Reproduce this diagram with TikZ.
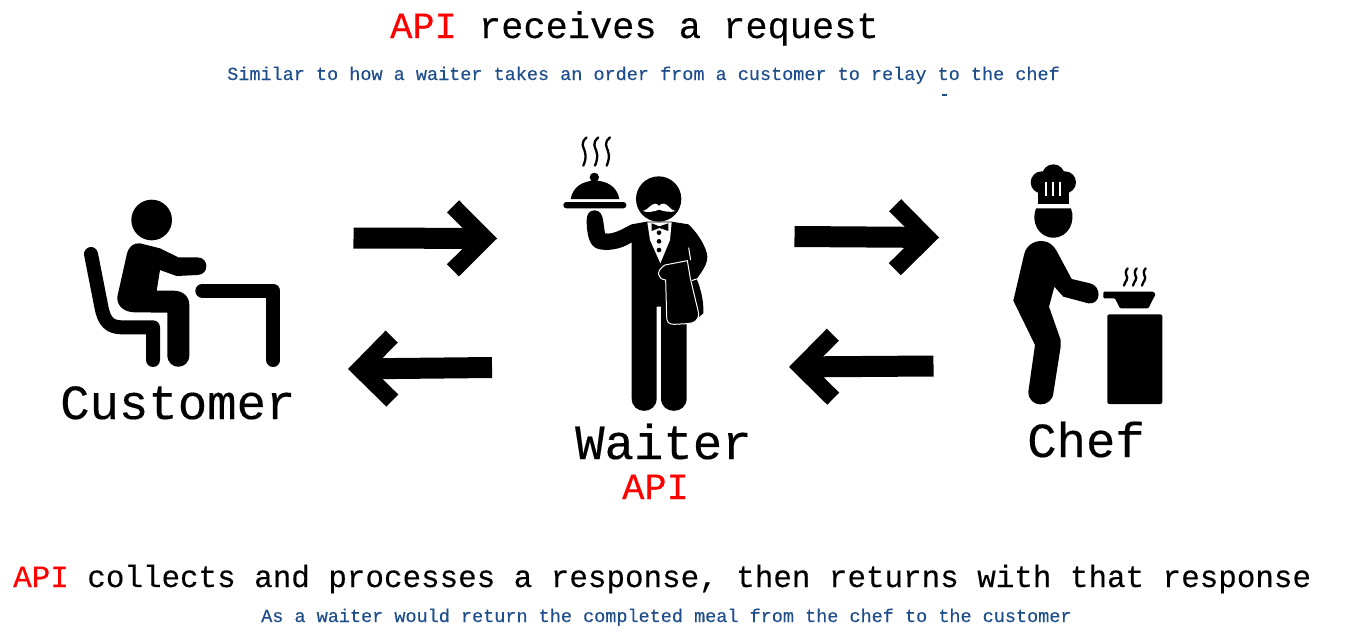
\documentclass[tikz,border=0pt]{standalone}
\usepackage{xcolor}
\usepackage{fontspec}
\setmainfont{Liberation Mono}[FakeBold=0.25]
\usetikzlibrary{arrows.meta}
\definecolor{cBlue}{RGB}{31,78,140}
\definecolor{cRed}{RGB}{255,0,0}
\tikzset{
    zoomed/.style={x=1pt/3,y=-1pt/3},
    bigarrow/.style={line width=21pt,-{Straight Barb[length=32pt,width=64pt,line width=17pt]}},
    steam/.style={line width=2.3pt,line cap=round},
    bar/.style={line width=14pt,line cap=round,line join=round},
    label/.style={anchor=base west,inner sep=0pt},
    bigtext/.style={label,font=\fontsize{49}{49}\selectfont},
    headtext/.style={label,font=\fontsize{37}{37}\selectfont},
    longtext/.style={label,font=\fontsize{30.9}{31}\selectfont},
    subtext/.style={label,text=cBlue,font=\fontsize{18.5}{19}\selectfont},
}

\begin{document}
\begin{tikzpicture}[x=1pt,y=-1pt]
        \useasboundingbox (0,0) rectangle (1358,637);
        \fill[white] (0,0) rectangle (1358,637);

        % texts
        \node[headtext] (topTitle) at (390,38) {\textcolor{cRed}{API} receives a request};
        \node[subtext] (topSub) at (227,80) {Similar to how a waiter takes an order from a customer to relay to the chef};
        \fill[white] (220,84) rectangle (1070,94);
        \fill[cBlue] (942,94.4) rectangle (947,95.6);
        \node[bigtext] (customerText) at (60,419) {Customer};
        \node[bigtext] (waiterText) at (575,459) {Waiter};
        \node[headtext,text=cRed] (apiText) at (622,499) {API};
        \node[bigtext] (chefText) at (1027,457) {Chef};
        \node[longtext] (botTitle) at (13,587) {\textcolor{cRed}{API} collects and processes a response, then returns with that response};
        \node[subtext] (botSub) at (261,622) {As a waiter would return the completed meal from the chef to the customer};

        % arrows
        \coordinate (custOut) at (353.5,238);
        \coordinate (waiterIn) at (497,238.5);
        \coordinate (waiterOut) at (794.5,236.5);
        \coordinate (chefIn) at (939,237.5);
        \coordinate (chefBack) at (933.5,366);
        \coordinate (waiterBack) at (789,367);
        \coordinate (waiterRet) at (492,367.5);
        \coordinate (custIn) at (348,369);
        \draw[bigarrow] (custOut) -- (waiterIn);
        \draw[bigarrow] (waiterOut) -- (chefIn);
        \draw[bigarrow] (chefBack) -- (waiterBack);
        \draw[bigarrow] (waiterRet) -- (custIn);

        % customer
        \begin{scope}[shift={(60,180)},zoomed]
        \fill (275,120) circle (61);
        \fill (172,350) -- (200,225) .. controls (205,200) and (220,188) .. (240,190) -- (300,205) -- (355,232) -- (412,232) .. controls (448,232) and (448,285) .. (412,285) -- (350,288) -- (300,270) -- (290,332) -- (340,332) .. controls (370,332) and (388,350) .. (388,375) -- (388,525) .. controls (388,572) and (322,572) .. (322,525) -- (322,398) -- (225,397) .. controls (195,397) and (170,380) .. (172,350) -- cycle;
        \draw[bar] (93,222) -- (124,380) .. controls (132,425) and (150,442) .. (185,442) -- (279,442) -- (279,540);
        \draw[bar] (427,332) -- (640,332) -- (640,540);
        \end{scope}

        % waiter
        \begin{scope}[shift={(550,125)},zoomed]
        \foreach \sx in {0,35,70} {
            \draw[steam,xshift=\sx/3*1pt] (110,37) .. controls (90,55) and (100,65) .. (104,78) .. controls (110,95) and (105,110) .. (100,122);
        }
        \fill (133,157) circle (14);
        \fill (62,222) .. controls (68,185) and (100,167) .. (135,167) .. controls (170,167) and (202,185) .. (208,222) -- cycle;
        \fill[rounded corners=3pt] (40,231) rectangle (229,250);
        \fill (326,222) circle (68);
        \fill[white] (278,258) .. controls (295,255) and (300,238) .. (315,236) .. controls (322,236) and (325,240) .. (327,243) .. controls (330,238) and (335,235) .. (342,236) .. controls (355,238) and (360,255) .. (376,258) .. controls (360,264) and (340,258) .. (327,254) .. controls (312,260) and (292,264) .. (278,258) -- cycle;
        \fill (110,285) .. controls (110,265) and (120,256) .. (134,256) .. controls (150,256) and (158,270) .. (160,290) -- (165,325) .. controls (190,330) and (220,310) .. (245,298) -- (290,290) -- (365,290) -- (415,298) .. controls (440,320) and (470,365) .. (472,395) .. controls (472,420) and (455,440) .. (440,462) .. controls (452,490) and (462,530) .. (460,565) -- (430,590) -- (410,596) -- (410,820) .. controls (410,870) and (333,870) .. (333,820) -- (333,545) -- (320,545) -- (320,820) .. controls (320,870) and (245,870) .. (245,820) -- (245,352) .. controls (210,375) and (170,378) .. (145,372) .. controls (120,365) and (110,335) .. (110,285) -- cycle;
        \fill[white] (292,292) -- (300,345) -- (331,415) -- (360,345) -- (365,292) -- cycle;
        \fill (305,295) -- (328,304) -- (355,295) -- (355,318) -- (328,309) -- (305,318) -- cycle;
        \foreach \by in {323,349,375} {
            \fill (327,\by) circle (7);
        }
        \filldraw[draw=white,line width=1pt] (345,420) -- (412,407) -- (421,460) -- (446,565) .. controls (446,590) and (430,595) .. (410,596) -- (372,598) .. controls (355,598) and (350,590) .. (350,575) -- (347,465) .. controls (322,462) and (316,438) .. (345,420) -- cycle;
        \draw[white,line width=1pt] (416,368) -- (422,405);
        \draw[white,line width=1pt] (425,467) -- (442,461);
        \end{scope}

        % chef
        \begin{scope}[shift={(1000,155)},zoomed]
        \fill (125,82) circle (33);
        \fill (160,62) circle (34);
        \fill (195,82) circle (33);
        \fill (113,80) rectangle (207,147);
        \foreach \hx in {138,159,180} {
            \fill[white] (\hx-4,82) rectangle (\hx+4,122);
        }
        \fill (108,160) -- (213,160) .. controls (228,200) and (205,248) .. (160,248) .. controls (115,248) and (92,200) .. (108,160) -- cycle;
        \fill (40,437) -- (72,300) .. controls (78,272) and (100,258) .. (125,258) .. controls (145,258) and (160,270) .. (170,288) -- (215,372) -- (270,385) .. controls (305,392) and (305,450) .. (265,445) -- (190,425) -- (163,395) -- (147,455) -- (182,555) -- (182,575) -- (160,715) .. controls (155,760) and (85,760) .. (85,710) -- (105,570) -- (40,437) -- cycle;
        \foreach \sx in {0,27,54} {
            \draw[steam,xshift=\sx/3*1pt] (383,340) .. controls (368,358) and (388,365) .. (380,375) .. controls (376,382) and (372,388) .. (372,392);
        }
        \fill[rounded corners=1pt] (310,410) -- (460,410) -- (467,418) -- (455,440) -- (445,460) -- (360,460) -- (345,430) -- (310,430) -- cycle;
        \fill[rounded corners=2pt] (322,478) rectangle (487,747);
        \end{scope}
\end{tikzpicture}
\end{document}
